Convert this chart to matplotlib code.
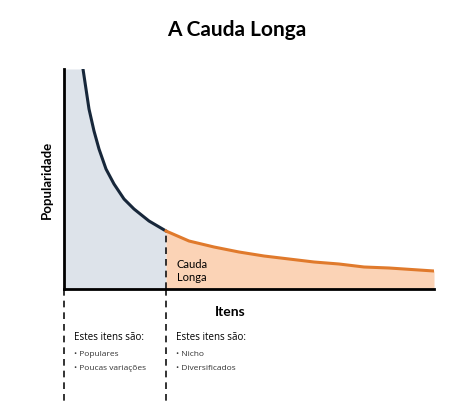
import matplotlib
matplotlib.use("Agg")
import matplotlib.pyplot as plt

# curve points: items (px offset from axis), popularity
xs = [19, 22, 25, 30, 35, 42, 50, 60, 70, 85, 102, 125, 150, 175, 200, 225, 250, 275, 300, 325, 370]
ys = [220, 200, 180, 158, 140, 120, 105, 90, 80, 68, 58, 48, 42, 37, 33, 30, 27, 25, 22, 21, 18]
split = 102
head_x = [x for x in xs if x <= split]; head_y = ys[:len(head_x)]
tail_x = xs[len(head_x)-1:]; tail_y = ys[len(head_x)-1:]

W, H = 474, 414
fig = plt.figure(figsize=(4.74, 4.14), dpi=100)
ax = fig.add_axes([64/W, (H-290)/H, 370/W, 220/H])
ax.set_xlim(0, 370); ax.set_ylim(0, 220)
ax.fill_between([0] + head_x, [220] + head_y, 0, color="#dde3ea", lw=0)
ax.fill_between(tail_x, tail_y, 0, color="#fbd3b6", lw=0)
ax.plot(head_x, head_y, color="#17273a", lw=2.2, solid_joinstyle="round")
ax.plot(tail_x, tail_y, color="#e07a2c", lw=2.2, solid_joinstyle="round")
ax.plot([split, split], [0, head_y[-1]], color="#111", lw=1.2, ls=(0, (4, 3)))
for x in [0, split]:
    ax.plot([x, x], [0, -115], color="#111", lw=1.2, ls=(0, (4, 3)), clip_on=False)
for s in ["top", "right"]:
    ax.spines[s].set_visible(False)
for s in ["left", "bottom"]:
    ax.spines[s].set_linewidth(2)
ax.set_xticks([]); ax.set_yticks([])
ax.patch.set_alpha(0)

fig.text(237/W, 1-30/H, "A Cauda Longa", ha="center", va="center", fontsize=15, fontweight="bold", family="Lato")
fig.text(47/W, 1-180/H, "Popularidade", rotation=90, ha="center", va="center", fontsize=9.5, fontweight="bold", family="Lato")
fig.text(230/W, 1-312/H, "Itens", ha="center", va="center", fontsize=10, fontweight="bold", family="Lato")
fig.text(192/W, 1-271/H, "Cauda\nLonga", ha="center", va="center", fontsize=8, family="Lato", linespacing=1.2)
fig.text(74/W, 1-338/H, "Estes itens são:", ha="left", va="center", fontsize=7, family="Open Sans")
fig.text(176/W, 1-338/H, "Estes itens são:", ha="left", va="center", fontsize=7, family="Open Sans")
fig.text(74/W, 1-355/H, "• Populares", ha="left", va="center", fontsize=6, family="Open Sans", color="#333")
fig.text(74/W, 1-369/H, "• Poucas variações", ha="left", va="center", fontsize=6, family="Open Sans", color="#333")
fig.text(176/W, 1-355/H, "• Nicho", ha="left", va="center", fontsize=6, family="Open Sans", color="#333")
fig.text(176/W, 1-369/H, "• Diversificados", ha="left", va="center", fontsize=6, family="Open Sans", color="#333")
fig.savefig("out.png", dpi=100)
